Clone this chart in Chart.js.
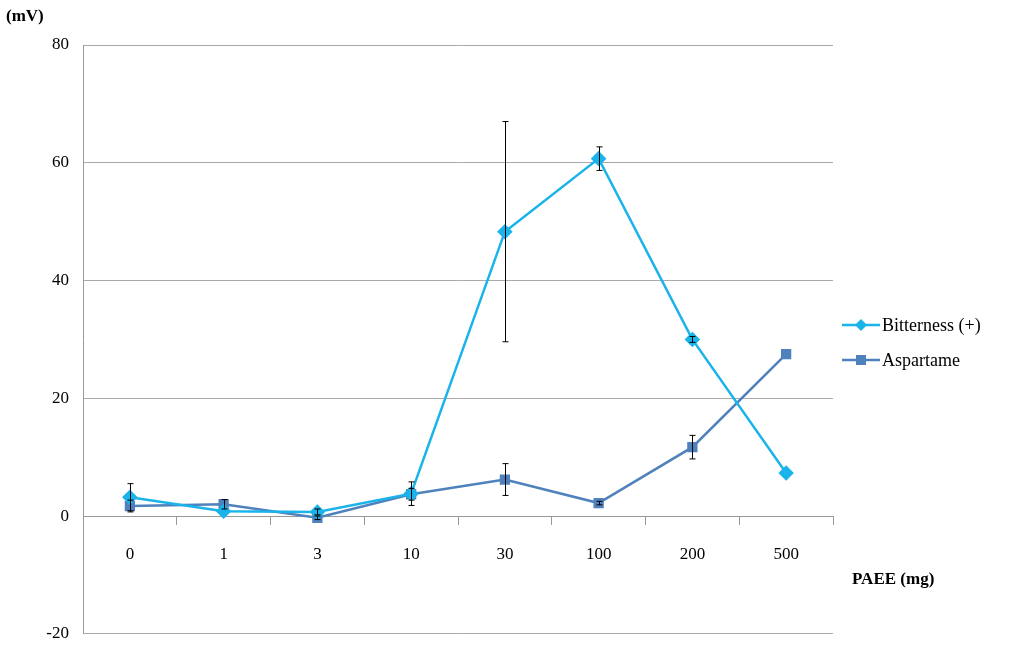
<!DOCTYPE html>
<html><head><meta charset="utf-8">
<script src="https://cdn.jsdelivr.net/npm/chart.js@4.4.4/dist/chart.umd.min.js"></script>
<style>body{margin:0;background:#fff}#wrap{width:1024px;height:658px}</style>
</head><body><div id="wrap"><canvas id="c"></canvas></div>
<script>
const doses = ['0', '1', '3', '10', '30', '100', '200', '500'];
const bitterness = [3.2, 0.8, 0.7, 3.8, 48.3, 60.7, 30, 7.3];
const bitternessErr = [2.3, 0, 0.5, 2, 18.7, 2, 0.5, 0];
const aspartame = [1.7, 2, -0.3, 3.7, 6.2, 2.2, 11.7, 27.5];
const aspartameErr = [1, 0.8, 0.3, 1, 2.7, 0.3, 2, 0];
const cyan = '#1AB3EA', blue = '#4F81BD';
const font = 'Liberation Serif';

// error bars + axis titles + legend
const extras = {
  id: 'extras',
  afterDatasetsDraw(chart) {
    const ctx = chart.ctx, x = chart.scales.x, y = chart.scales.y;
    ctx.save();
    ctx.strokeStyle = '#000'; ctx.lineWidth = 1;
    [[bitterness, bitternessErr], [aspartame, aspartameErr]].forEach(([vals, errs]) => {
      vals.forEach((v, i) => {
        if (!errs[i]) return;
        const px = Math.round(x.getPixelForValue(i)) + 0.5;
        const t = y.getPixelForValue(v + errs[i]), b = y.getPixelForValue(v - errs[i]);
        ctx.beginPath();
        ctx.moveTo(px, t); ctx.lineTo(px, b);
        ctx.moveTo(px - 3, t); ctx.lineTo(px + 3, t);
        ctx.moveTo(px - 3, b); ctx.lineTo(px + 3, b);
        ctx.stroke();
      });
    });
    ctx.fillStyle = '#000';
    ctx.font = 'bold 17px "' + font + '"';
    ctx.textBaseline = 'middle';
    ctx.textAlign = 'left';
    ctx.fillText('(mV)', 6, 17);
    ctx.fillText('PAEE (mg)', 852, 580);
    // legend
    ctx.font = '18px "' + font + '"';
    const items = [['Bitterness (+)', cyan, 'diamond', 325], ['Aspartame', blue, 'square', 360]];
    items.forEach(([label, col, shape, ly]) => {
      ctx.strokeStyle = col; ctx.lineWidth = 2.5; ctx.fillStyle = col;
      ctx.beginPath(); ctx.moveTo(842, ly); ctx.lineTo(880, ly); ctx.stroke();
      ctx.beginPath();
      if (shape === 'diamond') {
        ctx.moveTo(861, ly - 6); ctx.lineTo(867, ly); ctx.lineTo(861, ly + 6); ctx.lineTo(855, ly);
      } else {
        ctx.rect(856, ly - 5, 10, 10);
      }
      ctx.fill();
      ctx.fillStyle = '#000';
      ctx.fillText(label, 882, ly + 1);
    });
    ctx.restore();
  }
};

new Chart(document.getElementById('c'), {
  type: 'line',
  data: {
    labels: doses,
    datasets: [
      { label: 'Bitterness (+)', data: bitterness, borderColor: cyan, backgroundColor: cyan,
        borderWidth: 2.5, pointStyle: 'rectRot', pointRadius: 6, pointHoverRadius: 6, tension: 0 },
      { label: 'Aspartame', data: aspartame, borderColor: blue, backgroundColor: blue,
        borderWidth: 2.5, pointStyle: 'rect', pointRadius: 5.5, pointHoverRadius: 5.5, tension: 0 }
    ]
  },
  options: {
    responsive: true, maintainAspectRatio: false, animation: false,
    layout: { padding: { top: 45, right: 191, bottom: 0, left: 41 } },
    plugins: { legend: { display: false }, tooltip: { enabled: false } },
    scales: {
      x: {
        position: { y: 0 }, offset: true,
        grid: { offset: true, drawOnChartArea: false, drawTicks: true, tickLength: 8, color: '#999' },
        border: { color: '#999' },
        ticks: { color: '#000', font: { family: font, size: 17 }, padding: 20 }
      },
      y: {
        min: -20, max: 80,
        ticks: { stepSize: 20, color: '#000', font: { family: font, size: 17 }, padding: 14 },
        grid: { color: '#aaa', drawTicks: false },
        border: { color: '#999' },
        afterFit(s) { s.width = 42; }
      }
    }
  },
  plugins: [extras]
});
</script></body></html>
